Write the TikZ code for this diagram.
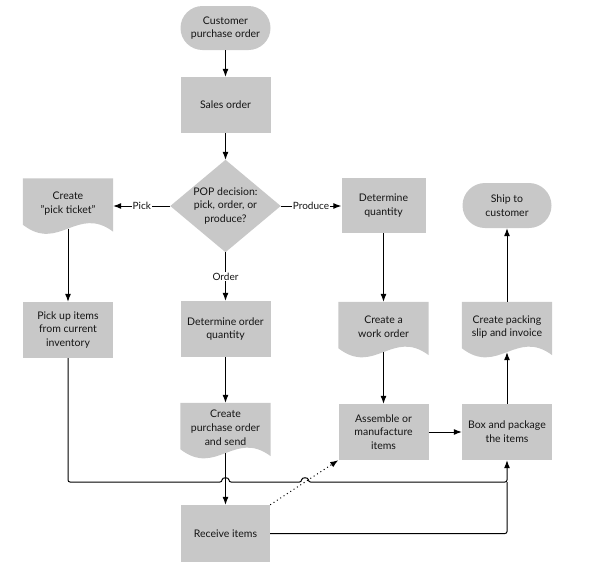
\documentclass[tikz,border=0pt]{standalone}
\usepackage{fontspec}
\setmainfont{Lato}
\usetikzlibrary{arrows.meta,backgrounds}
\definecolor{boxgray}{HTML}{C8C8C8}
\definecolor{txt}{HTML}{141414}
\begin{document}
\begin{tikzpicture}[x=1pt,y=-1pt,
  every node/.style={font=\fontsize{10.5}{13.8}\selectfont, text=txt, align=center},
  box/.style={fill=boxgray, minimum width=90pt, minimum height=56pt, inner sep=0pt},
  term/.style={fill=boxgray, rounded corners=22pt, minimum width=90pt, minimum height=44pt, inner sep=0pt},
  docn/.style={minimum width=90pt, minimum height=50pt, inner sep=0pt},
  line/.style={draw=black, line width=1pt},
  arr/.style={line, -{Latex[length=8pt,width=6pt]}},
  lab/.style={fill=white, inner sep=1pt, font=\fontsize{10}{12}\selectfont}
]
\useasboundingbox (0,0) rectangle (600,579);

% nodes
\node[term] (cpo) at (225.5,28) {Customer\\purchase order};
\node[box] (so) at (225.5,105) {Sales order};
\node[inner sep=0pt, minimum width=110pt, minimum height=92pt] (pop) at (225.5,206) {POP decision:\\pick, order, or\\produce?};
\node[docn] (pt) at (68,203.5) {Create\\"pick ticket"};
\node[box, minimum width=84pt, minimum height=55pt] (dq) at (383.5,205.5) {Determine\\quantity};
\node[term, minimum width=89pt, minimum height=45pt, rounded corners=22.5pt] (ship) at (507,205.5) {Ship to\\customer};
\node[box] (pu) at (68,330) {Pick up items\\from current\\inventory};
\node[box] (doq) at (225.5,329) {Determine order\\quantity};
\node[docn] (cpos) at (225.5,428) {Create\\purchase order\\and send};
\node[docn] (wo) at (383.5,327) {Create a\\work order};
\node[docn] (psi) at (507,327) {Create packing\\slip and invoice};
\node[box] (am) at (383.5,432) {Assemble or\\manufacture\\items};
\node[box] (box) at (507,432) {Box and package\\the items};
\node[box, minimum width=89pt, minimum height=57pt] (ri) at (225.5,533.5) {Receive items};

% shapes drawn behind text
\begin{scope}[on background layer]
\fill[boxgray] (pop.north) -- (pop.east) -- (pop.south) -- (pop.west) -- cycle;
\foreach \n in {pt,cpos,wo,psi} {
  \fill[boxgray] (\n.north west) -- (\n.north east) -- ([yshift=-3pt]\n.south east)
    .. controls ([xshift=-36pt,yshift=24pt]\n.south east) and ([xshift=36pt,yshift=-24pt]\n.south west)
    .. ([yshift=4pt]\n.south west) -- cycle;
}
\end{scope}

% connectors
\draw[arr] (cpo) -- (so);
\draw[arr] (so) -- (pop);
\draw[arr] (pop.west) -- node[lab]{Pick} (pop.west -| pt.east);
\draw[arr] (pop.east) -- node[lab]{Produce} (pop.east -| dq.west);
\draw[arr] (pop.south) -- node[lab]{Order} (doq.north);
\draw[arr] (pt) -- (pu);
\draw[arr] (doq) -- (cpos);
\draw[arr] (cpos) -- (ri);
\draw[arr] (dq) -- (wo);
\draw[arr] (wo) -- (am);
\draw[arr] (am) -- (box);
\draw[arr] (box) -- (psi);
\draw[arr] (psi) -- (ship);
\draw[arr, dash pattern=on 1pt off 3pt] (ri.north east) -- (am.south west);

\coordinate (bus) at (0,482);
\coordinate (h1) at (225.5,482);
\coordinate (h2) at (305,482);
\draw[arr, rounded corners=2pt] (pu.south) -- (pu.south |- bus) -- ([xshift=-3.5pt]h1)
  .. controls ([xshift=-3.5pt,yshift=5pt]h1) and ([xshift=3.5pt,yshift=5pt]h1) .. ([xshift=3.5pt]h1)
  -- ([xshift=-3.5pt]h2)
  .. controls ([xshift=-3.5pt,yshift=5pt]h2) and ([xshift=3.5pt,yshift=5pt]h2) .. ([xshift=3.5pt]h2)
  -- (box.south |- bus) -- (box.south);
\draw[line, rounded corners=2pt] (ri.east) -- (ri.east -| box.south) -- (box.south |- bus);
\end{tikzpicture}
\end{document}
